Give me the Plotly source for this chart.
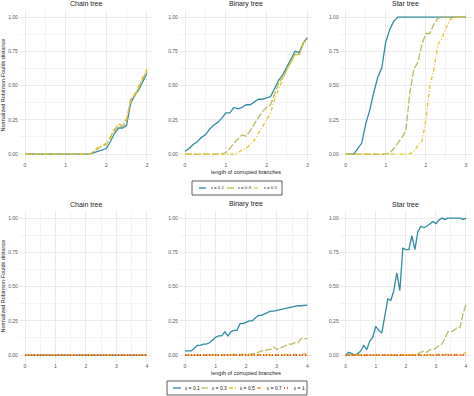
import plotly.graph_objects as go

# ---------------- data ----------------
x_top = [0.0, 0.1, 0.2, 0.3, 0.4, 0.5, 0.6, 0.7, 0.8, 0.9, 1.0, 1.1, 1.2, 1.3, 1.4, 1.5,
         1.6, 1.7, 1.8, 1.9, 2.0, 2.1, 2.2, 2.3, 2.4, 2.5, 2.6, 2.7, 2.8, 2.9, 3.0]
x_bot = [0.0, 0.1, 0.2, 0.3, 0.4, 0.5, 0.6, 0.7, 0.8, 0.9, 1.0, 1.1, 1.2, 1.3, 1.4, 1.5,
         1.6, 1.7, 1.8, 1.9, 2.0, 2.1, 2.2, 2.3, 2.4, 2.5, 2.6, 2.7, 2.8, 2.9, 3.0, 3.1,
         3.2, 3.3, 3.4, 3.5, 3.6, 3.7, 3.8, 3.9, 4.0]

panel_titles = ["Chain tree", "Binary tree", "Star tree"]
x_axis_title = "length of corrupted branches"
y_axis_title = "Normalized Robinson-Foulds distance"
top_labels = ["ε = 0.1", "ε = 0.3", "ε = 0.5"]
bot_labels = ["ε = 0.1", "ε = 0.3", "ε = 0.5", "ε = 0.7", "ε = 1"]
top_xticks = [0, 1, 2, 3]
bot_xticks = [0, 1, 2, 3, 4]
y_ticks = [0.0, 0.25, 0.5, 0.75, 1.0]

# top row: chain
chain_top_e01 = [0.0] * 17 + [0.01, 0.02, 0.03, 0.04, 0.09, 0.15, 0.19, 0.19, 0.21, 0.37, 0.43, 0.47, 0.53, 0.59]
chain_top_e03 = [0.0] * 17 + [0.02, 0.04, 0.06, 0.07, 0.12, 0.18, 0.21, 0.20, 0.24, 0.40, 0.42, 0.48, 0.55, 0.61]
chain_top_e05 = [0.0] * 17 + [0.02, 0.05, 0.06, 0.08, 0.11, 0.17, 0.22, 0.21, 0.26, 0.38, 0.44, 0.50, 0.56, 0.62]
# top row: binary
binary_top_e01 = [0.02, 0.04, 0.07, 0.09, 0.12, 0.14, 0.18, 0.21, 0.23, 0.26, 0.30, 0.30, 0.34, 0.33, 0.34, 0.36,
                  0.36, 0.38, 0.40, 0.40, 0.41, 0.42, 0.48, 0.54, 0.58, 0.64, 0.69, 0.75, 0.74, 0.81, 0.85]
binary_top_e03 = [0.0] * 10 + [0.01, 0.04, 0.08, 0.11, 0.14, 0.13, 0.17, 0.22, 0.27, 0.31, 0.34, 0.36, 0.44,
                               0.52, 0.56, 0.62, 0.67, 0.73, 0.72, 0.81, 0.84]
binary_top_e05 = [0.0] * 13 + [0.01, 0.03, 0.04, 0.07, 0.10, 0.15, 0.20, 0.24, 0.30, 0.40, 0.48, 0.55, 0.62,
                               0.67, 0.72, 0.73, 0.80, 0.84]
# top row: star
star_top_e01 = [0.0, 0.0, 0.0, 0.04, 0.08, 0.22, 0.32, 0.45, 0.56, 0.63, 0.82, 0.91, 0.97] + [1.0] * 18
star_top_e03 = [0.0] * 11 + [0.01, 0.04, 0.08, 0.12, 0.17, 0.45, 0.62, 0.67, 0.80, 0.88, 0.88, 0.95, 0.99] + [1.0] * 7
star_top_e05 = [0.0] * 17 + [0.02, 0.06, 0.09, 0.25, 0.50, 0.62, 0.80, 0.84, 0.92, 0.98] + [1.0] * 4

# bottom row: chain
chain_bot_e01 = [0.0] * 41
chain_bot_e03 = [0.0] * 41
chain_bot_e05 = [0.0] * 41
chain_bot_e07 = [0.0] * 41
chain_bot_e1 = [0.0] * 41
# bottom row: binary
binary_bot_e01 = [0.03, 0.03, 0.03, 0.05, 0.07, 0.07, 0.08, 0.08, 0.09, 0.11, 0.13, 0.14, 0.14, 0.17, 0.14,
                  0.17, 0.18, 0.18, 0.23, 0.23, 0.24, 0.25, 0.25, 0.27, 0.29, 0.29, 0.30, 0.31, 0.32, 0.32,
                  0.325, 0.33, 0.34, 0.34, 0.345, 0.35, 0.355, 0.36, 0.36, 0.365, 0.365]
binary_bot_e03 = [0.0] * 21 + [0.005, 0.01, 0.01, 0.02, 0.03, 0.03, 0.04, 0.04, 0.06, 0.04, 0.05, 0.06, 0.07,
                               0.08, 0.08, 0.09, 0.09, 0.12, 0.12, 0.12]
binary_bot_e05 = [0.0] * 39 + [0.005, 0.02]
binary_bot_e07 = [0.0] * 41
binary_bot_e1 = [0.0] * 41
# bottom row: star
star_bot_e01 = [0.0, 0.02, 0.01, 0.0, 0.01, 0.03, 0.07, 0.04, 0.10, 0.13, 0.21, 0.18, 0.16, 0.28, 0.41, 0.40,
                0.47, 0.60, 0.47, 0.78, 0.77, 0.77, 0.87, 0.77, 0.90, 0.94, 0.93, 0.94, 0.96, 0.975, 0.96,
                0.985, 1.0, 0.99, 1.0, 1.0, 1.0, 1.0, 1.0, 0.99, 1.0]
star_bot_e03 = [0.0] * 24 + [0.01, 0.02, 0.03, 0.02, 0.04, 0.04, 0.05, 0.07, 0.08, 0.12, 0.17, 0.17, 0.18,
                             0.20, 0.20, 0.30, 0.37]
star_bot_e05 = [0.0] * 39 + [0.005, 0.02]
star_bot_e07 = [0.0] * 41
star_bot_e1 = [0.0] * 41

top_series = [[chain_top_e01, chain_top_e03, chain_top_e05],
              [binary_top_e01, binary_top_e03, binary_top_e05],
              [star_top_e01, star_top_e03, star_top_e05]]
bot_series = [[chain_bot_e01, chain_bot_e03, chain_bot_e05, chain_bot_e07, chain_bot_e1],
              [binary_bot_e01, binary_bot_e03, binary_bot_e05, binary_bot_e07, binary_bot_e1],
              [star_bot_e01, star_bot_e03, star_bot_e05, star_bot_e07, star_bot_e1]]

# ---------------- styles ----------------
colors = ["#2E8CA2", "#BCBA5C", "#E8C41E", "#EE8B1E", "#DF2A1E"]
dashes = ["solid", "7px,2px", "4px,2px,1px,2px", "4px,2px", "1px,2px"]
LW = 1.3
FONT = "Liberation Sans, Arial, sans-serif"
W, H = 474, 396


def px(x):
    return x / W


def py(y):
    return 1 - y / H


col_px = [(18.9, 153.0), (178.9, 313.4), (339.7, 472.0)]
row_px = [(10.2, 160.9), (211.2, 361.9)]

fig = go.Figure()
shapes = []
annotations = []

ax = 0
for r in range(2):
    series = top_series if r == 0 else bot_series
    xs = x_top if r == 0 else x_bot
    xmax = 3 if r == 0 else 4
    xt = top_xticks if r == 0 else bot_xticks
    for c in range(3):
        ax += 1
        sfx = "" if ax == 1 else str(ax)
        for k, ys in enumerate(series[c]):
            fig.add_trace(go.Scatter(
                x=xs, y=ys, mode="lines", showlegend=False,
                line=dict(color=colors[k], width=LW, dash=dashes[k]),
                xaxis="x" + sfx, yaxis="y" + sfx, hoverinfo="skip"))
        x0, x1 = col_px[c]
        y0, y1 = row_px[r]
        fig.update_layout(**{
            "xaxis" + sfx: dict(
                domain=[px(x0), px(x1)], anchor="y" + sfx,
                range=[-0.05 * xmax, xmax * 1.05], tickvals=xt,
                ticktext=[str(t) for t in xt],
                showgrid=True, gridcolor="#EBEBEB", gridwidth=0.7,
                minor=dict(showgrid=True, gridcolor="#F4F4F4", gridwidth=0.5, dtick=0.5, tick0=0),
                zeroline=False, showline=False, ticks="",
                tickfont=dict(size=5, color="#555555", family=FONT)),
            "yaxis" + sfx: dict(
                domain=[py(y1), py(y0)], anchor="x" + sfx,
                range=[-0.05, 1.05], tickvals=y_ticks,
                ticktext=["%.2f" % t for t in y_ticks],
                showgrid=True, gridcolor="#EBEBEB", gridwidth=0.7,
                minor=dict(showgrid=True, gridcolor="#F4F4F4", gridwidth=0.5, dtick=0.125, tick0=0),
                zeroline=False, showline=False, ticks="",
                tickfont=dict(size=5, color="#555555", family=FONT)),
        })
        # panel title
        annotations.append(dict(
            text=panel_titles[c], x=px((x0 + x1) / 2), y=py(4 if r == 0 else 204),
            xref="paper", yref="paper", showarrow=False, xanchor="center", yanchor="middle",
            font=dict(size=7, color="#222222", family=FONT)))
    # y axis title
    yc = (row_px[r][0] + row_px[r][1]) / 2
    annotations.append(dict(
        text=y_axis_title, x=px(3), y=py(yc), xref="paper", yref="paper",
        showarrow=False, textangle=-90, xanchor="center", yanchor="middle",
        font=dict(size=5.5, color="#222222", family=FONT)))
    # x axis title
    annotations.append(dict(
        text=x_axis_title, x=px((col_px[1][0] + col_px[1][1]) / 2), y=py(172 if r == 0 else 373),
        xref="paper", yref="paper", showarrow=False, xanchor="center", yanchor="middle",
        font=dict(size=5.5, color="#222222", family=FONT)))

# ---------------- manual legends (ggplot-style compact keys) ----------------
legend_specs = [
    dict(box=(192, 181, 282, 195), ky=188, fsize=4.3, labels=top_labels,
         keys=[(199, 206), (227, 234), (254, 260)], tx=[208.5, 236, 262]),
    dict(box=(167, 381, 307, 395), ky=388, fsize=5, labels=bot_labels,
         keys=[(173, 181), (201, 208), (229, 236), (257, 263), (284, 290)],
         tx=[183, 210, 238, 265, 291.5]),
]
for spec in legend_specs:
    bx0, by0, bx1, by1 = spec["box"]
    shapes.append(dict(type="rect", xref="paper", yref="paper",
                       x0=px(bx0), x1=px(bx1), y0=py(by1), y1=py(by0),
                       line=dict(color="#333333", width=0.8), fillcolor="rgba(0,0,0,0)"))
    for k, lab in enumerate(spec["labels"]):
        kx0, kx1 = spec["keys"][k]
        shapes.append(dict(type="line", xref="paper", yref="paper",
                           x0=px(kx0), x1=px(kx1), y0=py(spec["ky"]), y1=py(spec["ky"]),
                           line=dict(color=colors[k], width=LW, dash=dashes[k])))
        annotations.append(dict(
            text=lab, x=px(spec["tx"][k]), y=py(spec["ky"]), xref="paper", yref="paper",
            showarrow=False, xanchor="left", yanchor="middle",
            font=dict(size=spec["fsize"], color="#222222", family=FONT)))

fig.update_layout(
    width=W, height=H, margin=dict(l=0, r=0, t=0, b=0),
    paper_bgcolor="white", plot_bgcolor="white",
    showlegend=False, shapes=shapes, annotations=annotations,
    font=dict(family=FONT),
)

fig.write_html(
    "out.html",
    config={"displayModeBar": False},
    post_script="document.body.style.margin='0';document.body.style.padding='0';"
                "document.body.style.overflow='hidden';",
)
